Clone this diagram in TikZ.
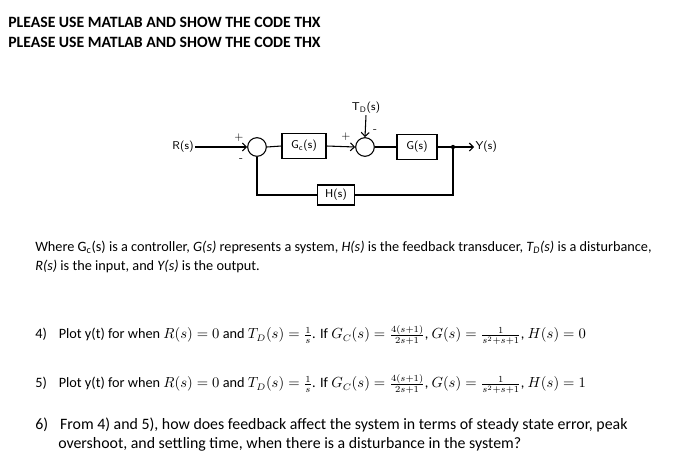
\documentclass[tikz,border=0pt]{standalone}
\usepackage{fontspec}
\setmainfont{Carlito}
\usepackage{amsmath}
\usetikzlibrary{arrows.meta}
\begin{document}
\begin{tikzpicture}[x=0.75pt,y=-0.75pt,
  txt/.style={anchor=west,inner sep=0pt,font=\fontsize{10.7}{12}\selectfont},
  big/.style={anchor=west,inner sep=0pt,font=\fontsize{11.9}{13}\selectfont},
  hand/.style={font=\sffamily\fontsize{8.5}{9}\selectfont,inner sep=1pt},
  blk/.style={draw,thick,minimum height=19pt,hand},
  sumc/.style={draw,thick,circle,minimum size=14pt,inner sep=0pt},
  wire/.style={thick},
  arr/.style={thick,-{Straight Barb[length=3pt]}}]
\useasboundingbox (0,0) rectangle (699,464);
\node[txt,font=\bfseries\fontsize{11.8}{13}\selectfont] (t1) at (8,22) {PLEASE USE MATLAB AND SHOW THE CODE THX};
\node[txt,font=\bfseries\fontsize{11.8}{13}\selectfont] (t2) at (8,42) {PLEASE USE MATLAB AND SHOW THE CODE THX};
% diagram
\node[hand] (R) at (183,147) {R(s)};
\node[sumc] (s1) at (257,147) {};
\node[blk,minimum width=33pt] (Gc) at (304,146) {G\textsubscript{c}(s)};
\node[sumc] (s2) at (365,147) {};
\node[blk,minimum width=30pt] (G) at (417,147) {G(s)};
\coordinate (br) at (453,147);
\node[hand,anchor=west] (Y) at (474,147) {Y(s)};
\node[hand] (Td) at (366,108) {T\textsubscript{D}(s)};
\node[blk,minimum width=28pt,minimum height=15pt] (H) at (336,195) {H(s)};
\draw[arr] (R.east) -- (s1.west);
\draw[wire] (s1.east) -- (Gc.west);
\draw[arr] (Gc.east) -- (s2.west);
\draw[wire] (s2.east) -- (G.west);
\draw[arr] (G.east) -- (Y.west);
\fill (br) circle (1.6pt);
\draw[arr] (Td.south) -- (s2.north);
\draw[wire] (br) |- (H.east);
\draw[wire] (H.west) -| (s1.south);
\node[hand] (p1) at (239,138) {+};
\node[hand] (m1) at (241,160) {-};
\node[hand] (p2) at (346,137) {+};
\node[hand] (m2) at (375,131) {-};
% text
\node[txt] (w1) at (35,247) {Where G\textsubscript{c}(s) is a controller, \textit{G(s)} represents a system, \textit{H(s)} is the feedback transducer, \textit{T\textsubscript{D}(s)} is a disturbance,};
\node[txt] (w2) at (35,266) {\textit{R(s)} is the input, and \textit{Y(s)} is the output.};
\node[txt] (q4) at (35,335) {4)\hspace{9pt}Plot y(t) for when $R(s)=0$ and $T_D(s)=\tfrac{1}{s}$. If $G_C(s)=\tfrac{4(s+1)}{2s+1}$, $G(s)=\tfrac{1}{s^2+s+1}$, $H(s)=0$};
\node[txt] (q5) at (35,384) {5)\hspace{9pt}Plot y(t) for when $R(s)=0$ and $T_D(s)=\tfrac{1}{s}$. If $G_C(s)=\tfrac{4(s+1)}{2s+1}$, $G(s)=\tfrac{1}{s^2+s+1}$, $H(s)=1$};
\node[big] (q6a) at (35,425) {6)\hspace{9pt}From 4) and 5), how does feedback affect the system in terms of steady state error, peak};
\node[big] (q6b) at (58,444) {overshoot, and settling time, when there is a disturbance in the system?};
\end{tikzpicture}
\end{document}
